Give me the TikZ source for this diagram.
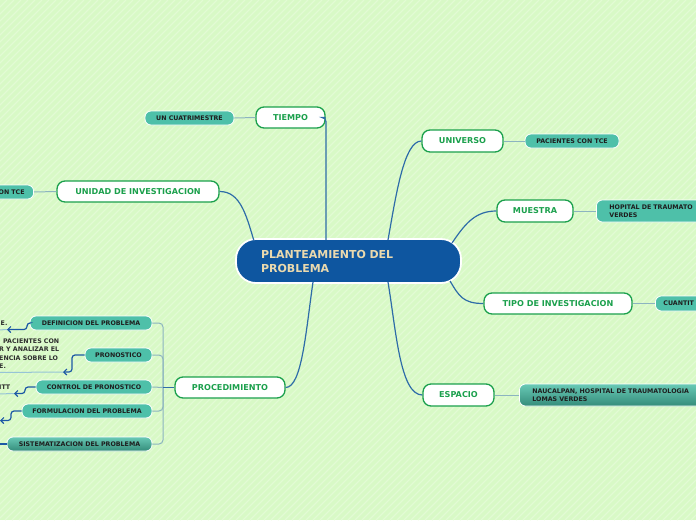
\documentclass[tikz,border=0pt]{standalone}
\usepackage{fontspec}
\setmainfont{DejaVu Sans}
\usetikzlibrary{arrows.meta}
\definecolor{bgc}{RGB}{216,249,198}
\definecolor{stripec}{RGB}{226,251,212}
\definecolor{branchc}{RGB}{46,108,168}
\definecolor{subc}{RGB}{140,180,192}
\definecolor{greenc}{RGB}{27,160,76}
\definecolor{tealc}{RGB}{78,192,169}
\definecolor{tealdark}{RGB}{52,140,122}
\definecolor{centralc}{RGB}{14,86,160}
\definecolor{beigec}{RGB}{234,217,174}
\definecolor{arrowc}{RGB}{28,88,165}
\definecolor{ulinec}{RGB}{150,196,214}
\definecolor{textdark}{RGB}{30,30,30}
\tikzset{
  mainbox/.style={draw=greenc, line width=1.3pt, fill=white, rounded corners=8pt,
    text=greenc, font=\bfseries\fontsize{8.1}{9}\selectfont, minimum height=21pt, inner sep=0pt},
  leaf/.style={draw=white, line width=0.8pt, fill=tealc, rounded corners=6pt,
    text=textdark, font=\bfseries\fontsize{6.3}{8}\selectfont, minimum height=14pt, inner sep=0pt},
  leafgrad/.style={leaf, top color=tealc!85!white, bottom color=tealdark},
  frag/.style={text=textdark!85!gray, font=\bfseries\fontsize{6.3}{8}\selectfont, inner sep=0pt},
  branch/.style={draw=branchc, line width=1.2pt},
  sublink/.style={draw=subc, line width=1pt},
  outarrow/.style={draw=arrowc, line width=1.2pt, rounded corners=3pt, -{Straight Barb[length=3pt,width=6pt]}},
  uline/.style={draw=ulinec, line width=1pt}
}
\begin{document}
\begin{tikzpicture}[x=1pt,y=-1pt]
\path[use as bounding box] (0,0) rectangle (696,520);
\clip (0,0) rectangle (696,520);
\fill[bgc] (0,0) rectangle (696,520);
\foreach \i in {-520,-513,...,700} {
  \draw[stripec, line width=1.2pt] (\i,520) -- (\i+520,0);
}
% central
\node[fill=centralc, draw=white, line width=1.8pt, rounded corners=20pt,
  minimum width=225pt, minimum height=44pt, text width=175pt, align=left,
  inner xsep=25pt, inner ysep=0pt, text=beigec,
  font=\bfseries\fontsize{11}{14}\selectfont] (central) at (348.5,261)
  {PLANTEAMIENTO DEL\\PROBLEMA};
% main branches
\node[mainbox, minimum width=69pt] (tiempo) at (290.5,117.5) {TIEMPO};
\node[mainbox, minimum width=162pt] (unidad) at (138,191.5) {UNIDAD DE INVESTIGACION};
\node[mainbox, minimum width=81pt, minimum height=22pt] (universo) at (462.5,141) {UNIVERSO};
\node[mainbox, minimum width=76pt, minimum height=22pt] (muestra) at (535,211) {MUESTRA};
\node[mainbox, minimum width=148pt] (tipo) at (558,303.5) {TIPO DE INVESTIGACION};
\node[mainbox, minimum width=71pt, minimum height=22pt] (espacio) at (458.5,395) {ESPACIO};
\node[mainbox, minimum width=110pt] (proc) at (230,387.5) {PROCEDIMIENTO};
% leaves
\node[leaf, minimum width=89pt] (cuatri) at (189.5,118) {UN CUATRIMESTRE};
\node[leaf, anchor=east, text width=40pt, align=right, inner xsep=9pt] (ontce) at (34,192) {ON TCE};
\node[leaf, minimum width=94pt] (pacientes) at (572,141) {PACIENTES CON TCE};
\node[leaf, anchor=west, minimum height=22pt, text width=120pt, align=left, inner xsep=13pt,
  font=\bfseries\fontsize{6.3}{8}\selectfont] (hopital) at (596,211) {HOPITAL DE TRAUMATO\\VERDES};
\node[leaf, anchor=west, minimum height=15pt, text width=60pt, align=left, inner xsep=8pt] (cuantit) at (655,303.5) {CUANTIT};
\node[leafgrad, anchor=west, minimum height=22pt, text width=200pt, align=left, inner xsep=13pt] (naucalpan) at (519,395)
  {NAUCALPAN, HOSPITAL DE TRAUMATOLOGIA\\LOMAS VERDES};
\node[leaf, minimum width=122pt] (def) at (91,323) {DEFINICION DEL PROBLEMA};
\node[leaf, minimum width=67pt] (pron) at (118.5,355) {PRONOSTICO};
\node[leaf, minimum width=116pt] (control) at (94,387) {CONTROL DE PRONOSTICO};
\node[leaf, minimum width=130pt] (form) at (87,411) {FORMULACION DEL PROBLEMA};
\node[leafgrad, minimum width=145pt] (sist) at (79.5,444) {SISTEMATIZACION DEL PROBLEMA};
% left text fragments
\node[frag, anchor=west] (f1) at (0.5,323) {E.};
\node[frag, anchor=north west, align=left, font=\bfseries\fontsize{6.3}{8.1}\selectfont] (f2) at (-1,339)
  {\hspace*{4pt}PACIENTES CON\\R Y ANALIZAR EL\\ENCIA SOBRE LO\\E.};
\node[frag, anchor=east] (f3) at (10.5,387) {ITT};
% endpoints
\coordinate (e1) at (7,329.5);
\coordinate (e2) at (63,372);
\coordinate (e3) at (14,393.5);
\coordinate (e4) at (0,420.5);
\coordinate (e5) at (-6,444);
\coordinate (pj) at (163,387.5);
\coordinate (cT) at (326,240);
\coordinate (cU) at (254,241);
\coordinate (cV) at (388,240);
\coordinate (cM) at (452,243);
\coordinate (cTi) at (450,281);
\coordinate (cE) at (388,282);
\coordinate (cP) at (313,282);
% underlines
\draw[uline] (-2,330) -- (e1);
\draw[uline] (-2,372.5) -- (e2);
\draw[uline] (-2,394) -- (e3);
% main connectors
\draw[branch, rounded corners=4pt] (tiempo.east) -| (cT);
\draw[branch] (unidad.east) .. controls (240,191.5) and (246,214) .. (cU);
\draw[branch] (universo.west) .. controls (404,141) and (396,195) .. (cV);
\draw[branch] (muestra.west) .. controls (475,211) and (465,224) .. (cM);
\draw[branch] (tipo.west) .. controls (463,303.5) and (459,296) .. (cTi);
\draw[branch] (espacio.west) .. controls (400,395) and (396,330) .. (cE);
\draw[branch] (proc.east) .. controls (302,387.5) and (306,330) .. (cP);
% leaf links
\draw[sublink] (tiempo.west) -- (cuatri.east);
\draw[sublink] (unidad.west) -- (ontce.east);
\draw[sublink] (universo.east) -- (pacientes.west);
\draw[sublink] (muestra.east) -- (hopital.west);
\draw[sublink] (tipo.east) -- (cuantit.west);
\draw[sublink] (espacio.east) -- (naucalpan.west);
% bracket
\draw[sublink, rounded corners=4pt] (def.east) -| (pj);
\draw[sublink, rounded corners=4pt] (pron.east) -| (pj);
\draw[sublink] (control.east) -- (pj);
\draw[sublink, rounded corners=4pt] (form.east) -| (pj);
\draw[sublink, rounded corners=4pt] (sist.east) -| (pj);
\draw[branch] (proc.west) -- (pj);
% outgoing arrows
\draw[outarrow] (def.west) -- (27,323) -- (27,329.5) -- (e1);
\draw[outarrow] (pron.west) -- (72,355) -- (72,372) -- (e2);
\draw[outarrow] (control.west) -- (25,387) -- (25,393.5) -- (e3);
\draw[outarrow] (form.west) -- (11,411) -- (11,420.5) -- (e4);
\draw[outarrow] (sist.west) -- (e5);
\end{tikzpicture}
\end{document}
